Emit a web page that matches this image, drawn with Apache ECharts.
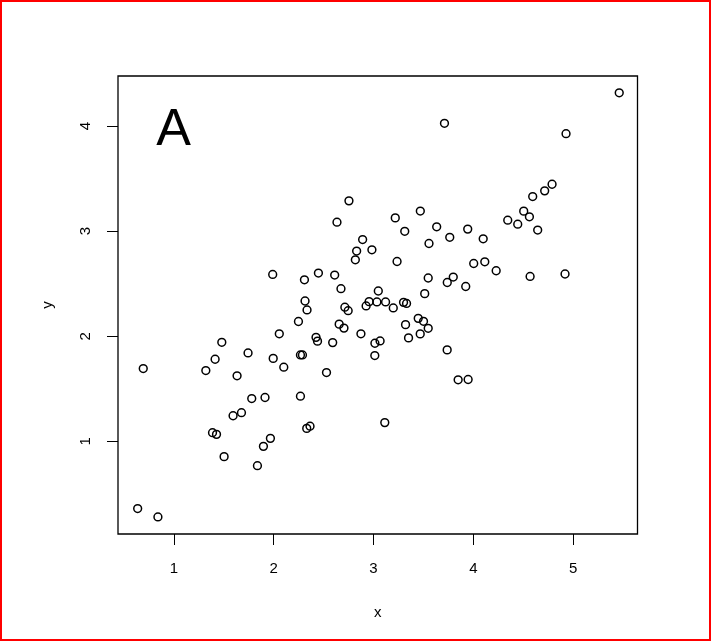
<!DOCTYPE html>
<html>
<head>
<meta charset="utf-8">
<script src="https://cdn.jsdelivr.net/npm/echarts@6/dist/echarts.min.js"></script>
<style>
html,body{margin:0;padding:0;background:#fff;}
#chart{position:absolute;left:0;top:0;width:711px;height:641px;}
#frame{position:absolute;left:0;top:0;width:711px;height:641px;box-sizing:border-box;border:2px solid #ff0000;pointer-events:none;}
</style>
</head>
<body>
<div id="chart"></div>
<div id="frame"></div>
<script>
const xValues = [0.637,0.840,0.693,1.320,1.413,1.480,1.387,1.427,1.503,1.837,
1.897,1.967,1.593,1.677,1.633,1.743,1.780,1.913,1.995,2.056,
2.101,2.248,2.268,2.288,2.268,2.331,2.364,2.314,2.334,2.424,
2.439,2.529,2.591,2.656,2.704,2.713,2.746,2.874,2.926,2.956,
3.014,3.066,3.013,3.113,3.034,3.121,2.754,2.634,3.218,3.469,
3.313,3.633,3.944,3.764,3.556,4.099,2.891,2.831,2.984,2.818,
3.236,4.004,1.990,2.308,2.448,2.611,2.674,3.548,3.799,3.739,
3.924,3.513,3.048,3.198,3.301,3.331,3.448,3.501,3.548,3.321,
3.351,3.468,3.738,3.848,3.948,3.711,4.929,4.789,4.715,4.595,
4.505,4.562,4.345,4.445,4.645,4.115,4.229,4.569,4.919,5.462];
const yValues = [0.360,0.280,1.692,1.673,1.781,1.942,1.082,1.066,0.854,0.768,
0.952,1.028,1.243,1.272,1.623,1.841,1.407,1.417,1.789,2.023,
1.705,2.140,1.822,1.822,1.429,1.123,1.144,2.335,2.250,1.989,
1.953,1.654,1.939,2.115,2.077,2.276,2.243,2.023,2.288,2.329,
1.933,1.955,1.816,1.178,2.326,2.326,3.288,3.085,3.126,3.191,
2.998,3.041,3.019,2.941,2.882,2.927,2.920,2.810,2.822,2.727,
2.711,2.692,2.588,2.537,2.601,2.582,2.452,2.554,2.563,2.511,
2.473,2.405,2.430,2.269,2.322,2.312,2.170,2.142,2.075,2.110,
1.984,2.022,1.870,1.585,1.588,4.026,3.927,3.446,3.383,3.329,
3.190,3.136,3.104,3.066,3.010,2.708,2.623,2.569,2.592,4.316];
const xTicks = [1,2,3,4,5];
const yTicks = [1,2,3,4];
const panelLabel = 'A';
const xName = 'x';
const yName = 'y';

const points = xValues.map((x, i) => [x, yValues[i]]);
const FONT = '"Liberation Sans", Arial, Helvetica, sans-serif';

const chart = echarts.init(document.getElementById('chart'), null, {renderer: 'canvas'});
chart.setOption({
  animation: false,
  backgroundColor: '#ffffff',
  grid: {
    left: 118, top: 76, right: 73.5, bottom: 107,
    show: true, borderColor: '#000', borderWidth: 1.3, backgroundColor: 'transparent'
  },
  xAxis: {
    type: 'value', min: 0.44, max: 5.645,
    name: xName, nameLocation: 'middle', nameGap: 71,
    nameTextStyle: {fontFamily: FONT, fontSize: 15, color: '#000'},
    axisLine: {show: false},
    splitLine: {show: false},
    axisTick: {show: true, customValues: xTicks, length: 11, lineStyle: {color: '#000', width: 1}},
    axisLabel: {customValues: xTicks, margin: 27, fontFamily: FONT, fontSize: 15, color: '#000'}
  },
  yAxis: {
    type: 'value', min: 0.118, max: 4.476,
    name: yName, nameLocation: 'middle', nameGap: 63, nameRotate: 90,
    nameTextStyle: {fontFamily: FONT, fontSize: 15, color: '#000'},
    axisLine: {show: false},
    splitLine: {show: false},
    axisTick: {show: true, customValues: yTicks, length: 11, lineStyle: {color: '#000', width: 1}},
    axisLabel: {customValues: yTicks, rotate: 90, margin: 25, fontFamily: FONT, fontSize: 15, color: '#000'}
  },
  graphic: [{
    type: 'text', x: 173.7, y: 131,
    style: {text: panelLabel, font: '52px ' + FONT, fill: '#000', textAlign: 'center', textVerticalAlign: 'middle'}
  }],
  series: [{
    type: 'scatter',
    data: points,
    symbol: 'circle',
    symbolSize: 7.8,
    itemStyle: {color: 'rgba(0,0,0,0)', borderColor: '#000', borderWidth: 1.5, opacity: 1},
    emphasis: {disabled: true}
  }]
});
</script>
</body>
</html>
